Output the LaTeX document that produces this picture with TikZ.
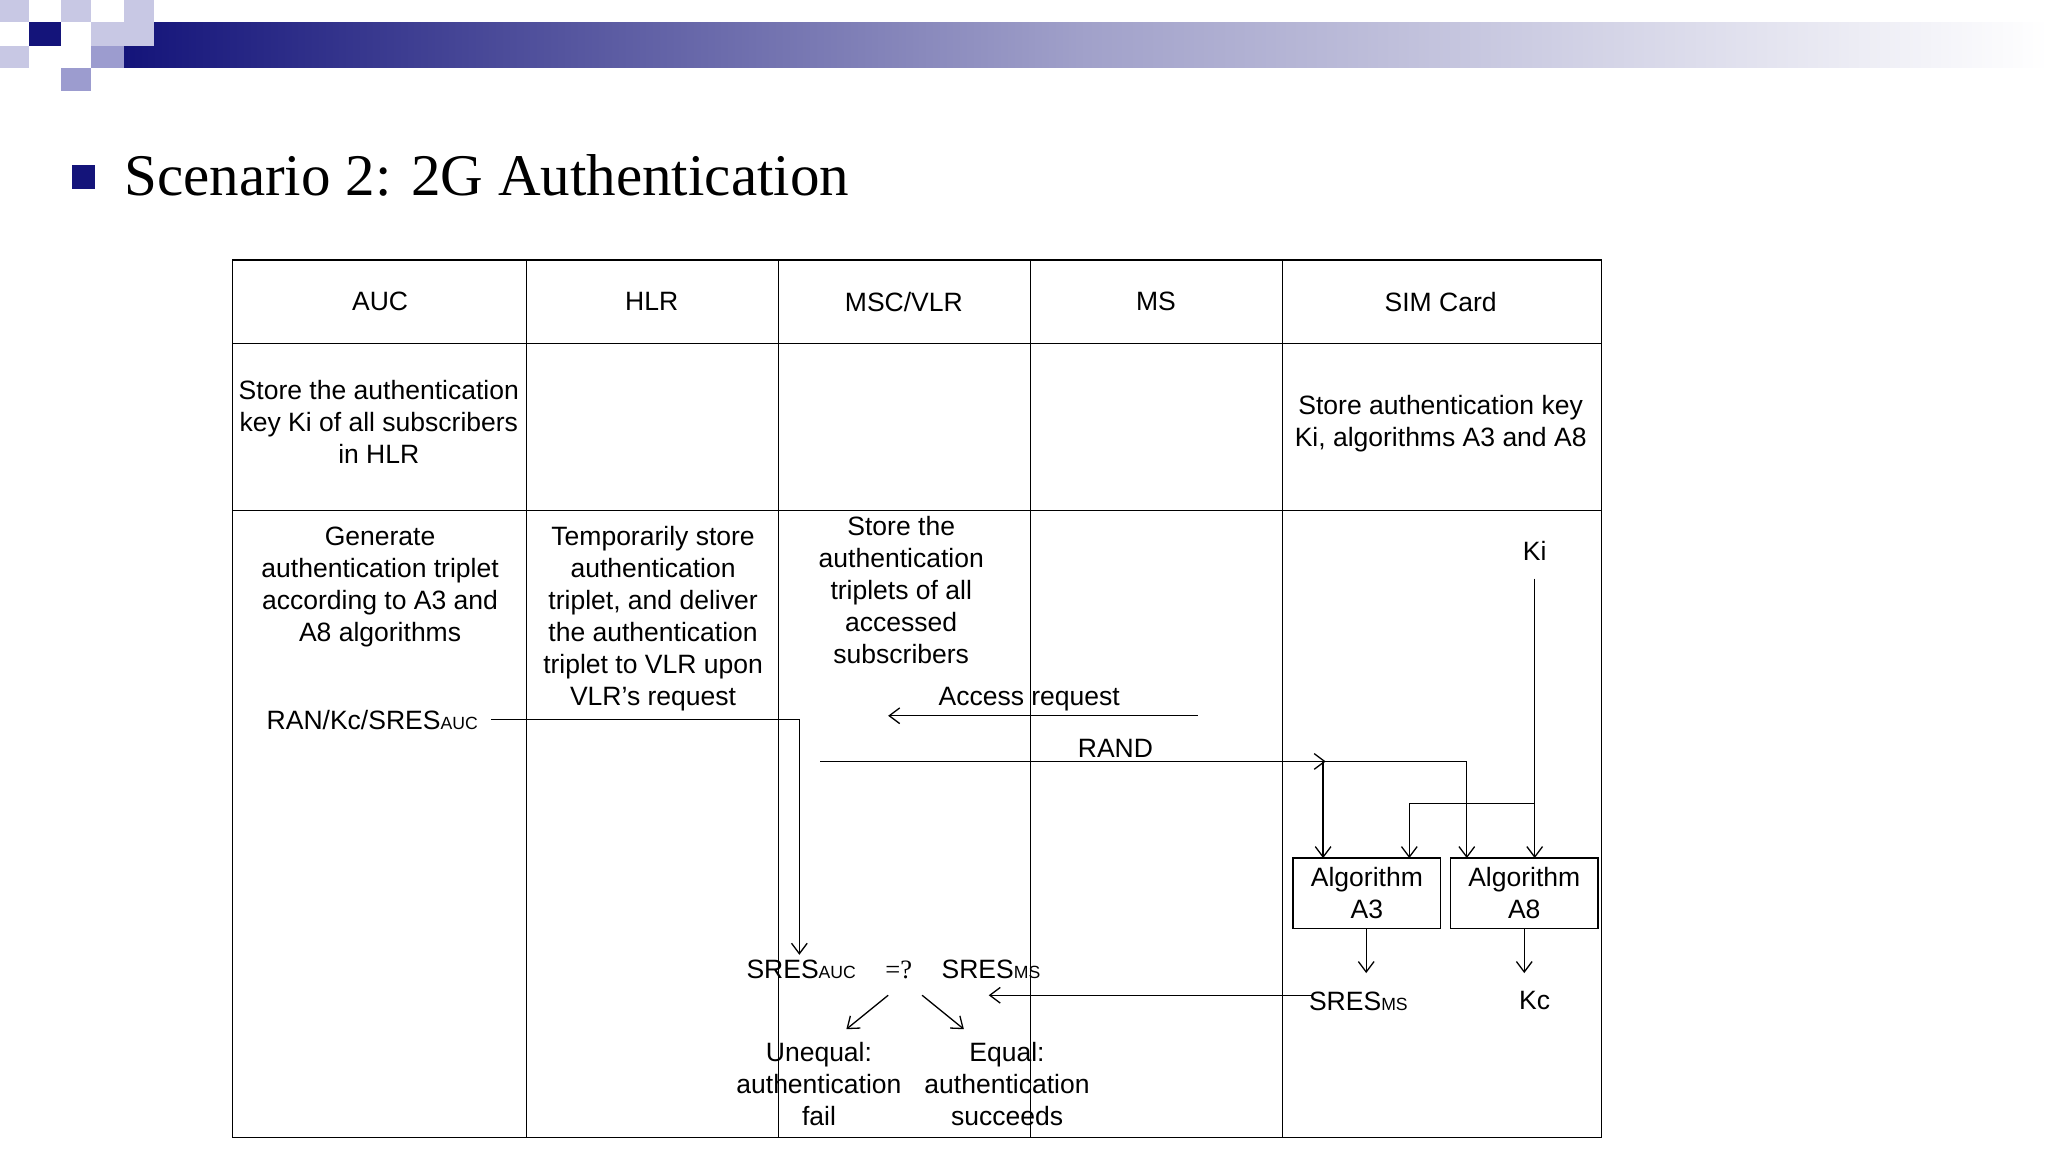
\documentclass[tikz,border=0pt]{standalone}
\usepackage{fontspec}
\setmainfont{Liberation Serif}
\setsansfont{Liberation Sans}
\usetikzlibrary{arrows.meta}
\definecolor{navy}{HTML}{14147A}
\definecolor{lav}{HTML}{9C9CCF}
\definecolor{lavl}{HTML}{C8C8E4}
\tikzset{
 every node/.style={font=\sffamily\fontsize{20.3}{24.5}\selectfont, inner sep=0pt},
 ln/.style={line width=1pt},
 arr/.style={line width=1pt,-{Straight Barb[length=8pt,width=12pt]}},
 cell/.style={align=center},
 algbox/.style={draw,line width=1pt,minimum width=113pt,minimum height=54pt,align=center}
}
\newcommand{\sub}[1]{{\fontsize{13.5}{13.5}\selectfont #1}}
\begin{document}
\begin{tikzpicture}[x=1pt,y=-1pt]
\useasboundingbox (0,0) rectangle (1568,882);
\fill[white] (0,0) rectangle (1568,882);
% banner
\shade[left color=navy, right color=white, middle color=navy!40] (95,17) rectangle (1568,52);
\fill[lavl] (0,0) rectangle (22,17);
\fill[lavl] (0,35) rectangle (22,52);
\fill[navy] (22,17) rectangle (47,35);
\fill[lavl] (47,0) rectangle (70,17);
\fill[lav] (70,35) rectangle (95,52);
\fill[lav] (47,52) rectangle (70,70);
\fill[lavl] (95,0) rectangle (118,35);
\fill[lavl] (70,17) rectangle (95,35);
% title
\fill[navy] (55,126) rectangle (73,145);
\node[anchor=base west, font=\rmfamily\fontsize{45.2}{50}\selectfont] (title) at (95,150) {Scenario 2: 2G Authentication};
% table
\draw[ln] (178,199) rectangle (1226,871);
\foreach \x in {403,596,789,982} \draw[ln] (\x,199) -- (\x,871);
\draw[ln] (178,263) -- (1226,263);
\draw[ln] (178,391) -- (1226,391);
\node (h1) at (291,231) {AUC};
\node (h2) at (499,231) {HLR};
\node (h3) at (692,231) {MSC/VLR};
\node (h4) at (885,231) {MS};
\node (h5) at (1103,231) {SIM Card};
\node[cell] (r1) at (290,323) {Store the authentication\\key Ki of all subscribers\\in HLR};
\node[cell] (r5) at (1103,324) {Store authentication key\\Ki, algorithms A3 and A8};
\node[cell,anchor=north] (g) at (291,403) {Generate\\authentication triplet\\according to A3 and\\A8 algorithms};
\node[cell,anchor=north] (t) at (500,403) {Temporarily store\\authentication\\triplet, and deliver\\the authentication\\triplet to VLR upon\\VLR’s request};
\node[cell,anchor=north] (s) at (690,395) {Store the\\authentication\\triplets of all\\accessed\\subscribers};
% RAN
\node (ran) at (285,551) {RAN/Kc/SRES\sub{AUC}};
\node (cmp) at (684,742) {SRES\sub{AUC}\ \ \ \ {\rmfamily =?}\ \ \ \ SRES\sub{MS}};
\coordinate (c1) at (612,551);
\draw[arr] (376,551) -- (c1) -- (612,731);
% access request
\node (acc) at (788,535) {Access request};
\coordinate (aS) at (917,548);
\coordinate (aE) at (680,548);
\draw[arr] (aS) -- (aE);
% algorithms
\node[algbox] (a3) at (1046.5,684) {Algorithm\\A3};
\node[algbox] (a8) at (1167,684) {Algorithm\\A8};
% RAND
\node (rand) at (854,573) {RAND};
\coordinate (rS) at (628,583);
\draw[ln] (rS) -- (1123,583);
\draw[arr] (1123,583) -- (1123,657);
\draw[arr] (1005,583) -- (1015,583);
\draw[arr] (1013,583) -- (1013,657);
% Ki
\node (ki) at (1175,422) {Ki};
\draw[arr] (1175,443) -- (1175,657);
\draw[ln] (1175,615) -- (1079,615);
\draw[arr] (1079,615) -- (1079,657);
% outputs
\node (sms) at (1040,767) {SRES\sub{MS}};
\node (kc) at (1175,766) {Kc};
\draw[arr] (1046,711) -- (1046,745);
\draw[arr] (1167,711) -- (1167,745);
\draw[arr] (1005,762) -- (757,762);
% results
\draw[arr] (680,762) -- (648,788);
\draw[arr] (706,762) -- (738,788);
\node[cell] (neq) at (627,830) {Unequal:\\authentication\\fail};
\node[cell] (eq) at (771,830) {Equal:\\authentication\\succeeds};
\end{tikzpicture}
\end{document}
